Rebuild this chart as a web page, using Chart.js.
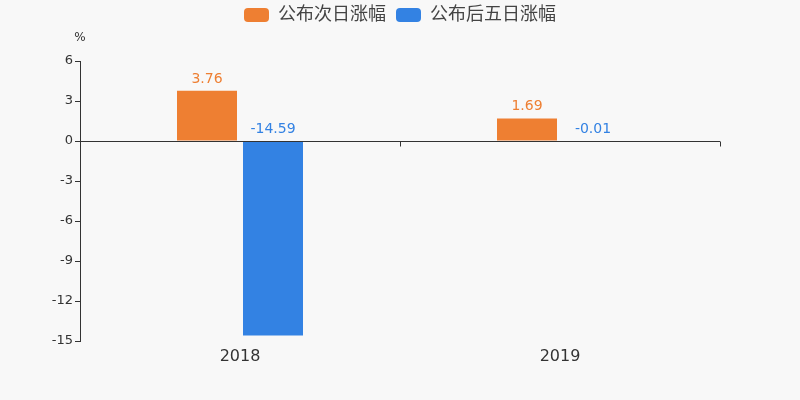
<!DOCTYPE html>
<html>
<head>
<meta charset="utf-8">
<script src="https://cdn.jsdelivr.net/npm/chart.js@4.4.1/dist/chart.umd.min.js"></script>
<style>
  html, body { margin: 0; padding: 0; background: #f8f8f8; }
  #wrap { width: 800px; height: 400px; }
</style>
</head>
<body>
<div id="wrap"><canvas id="c"></canvas></div>
<script>
const categories = ["2018", "2019"];
const nextDayChange = [3.76, 1.69];
const fiveDayChange = [-14.59, -0.01];
const seriesNames = ["公布次日涨幅", "公布后五日涨幅"];
const yTicks = [-15, -12, -9, -6, -3, 0, 3, 6];

const ORANGE = "#ee7f32";
const BLUE = "#3382e3";
const AXIS = "#333333";
const FONT = "'DejaVu Sans', 'Noto Sans CJK SC', sans-serif";

// leave room between the legend and the plot
const legendGap = {
    id: "legendGap",
    beforeInit(chart) {
        const fit = chart.legend.fit;
        chart.legend.fit = function () {
            fit.bind(chart.legend)();
            this.height += 27;
        };
    },
};

// zero-based x axis, the "%" unit and the value labels above bars
const overlay = {
    id: "overlay",
    afterDatasetsDraw(chart) {
        const { ctx, chartArea, scales } = chart;
        const y0 = Math.round(scales.y.getPixelForValue(0)) + 0.5;
        ctx.save();
        ctx.strokeStyle = AXIS;
        ctx.lineWidth = 1;
        ctx.beginPath();
        ctx.moveTo(chartArea.left, y0);
        ctx.lineTo(chartArea.right, y0);
        const step = (chartArea.right - chartArea.left) / categories.length;
        for (let i = 0; i <= categories.length; i++) {
            const x = Math.round(chartArea.left + step * i) + 0.5;
            ctx.moveTo(x, y0);
            ctx.lineTo(x, y0 + 5);
        }
        ctx.stroke();

        ctx.fillStyle = AXIS;
        ctx.font = "12px " + FONT;
        ctx.textAlign = "center";
        ctx.textBaseline = "middle";
        ctx.fillText("%", chartArea.left, 38);

        ctx.font = "14px " + FONT;
        ctx.textBaseline = "bottom";
        chart.data.datasets.forEach((ds, di) => {
            const meta = chart.getDatasetMeta(di);
            meta.data.forEach((bar, i) => {
                ctx.fillStyle = ds.backgroundColor;
                const top = Math.min(bar.y, bar.base);
                ctx.fillText(ds.data[i].toFixed(2), bar.x, top - 5);
            });
        });
        ctx.restore();
    },
};

new Chart(document.getElementById("c"), {
    type: "bar",
    data: {
        labels: categories,
        datasets: [
            { label: seriesNames[0], data: nextDayChange, backgroundColor: ORANGE },
            { label: seriesNames[1], data: fiveDayChange, backgroundColor: BLUE },
        ],
    },
    options: {
        responsive: true,
        maintainAspectRatio: false,
        animation: false,
        categoryPercentage: 0.4125,
        barPercentage: 60 / 66,
        layout: { padding: { top: -4, right: 0, left: 0, bottom: 0 } },
        plugins: {
            tooltip: { enabled: false },
            legend: {
                position: "top",
                labels: {
                    font: { family: FONT, size: 18 },
                    color: "#444",
                    boxWidth: 25,
                    boxHeight: 14,
                    useBorderRadius: true,
                    borderRadius: 4,
                    padding: 10,
                },
            },
        },
        scales: {
            x: {
                grid: { display: false, drawTicks: false },
                border: { display: false },
                ticks: { font: { family: FONT, size: 16 }, color: "#333", padding: 6 },
                afterFit(scale) { scale.height = 59; },
            },
            y: {
                min: -15,
                max: 6,
                afterBuildTicks(scale) { scale.ticks = yTicks.map((v) => ({ value: v })); },
                grid: { drawOnChartArea: false, drawTicks: true, tickLength: 5, color: AXIS },
                border: { color: AXIS },
                ticks: { font: { family: FONT, size: 13 }, color: "#333", padding: 2 },
                afterFit(scale) { scale.width = 80; },
            },
            // empty right-side gutter so the plot ends at x=720
            gutter: {
                position: "right",
                grid: { display: false, drawTicks: false },
                border: { display: false },
                ticks: { display: false },
                afterFit(scale) { scale.width = 80; },
            },
        },
    },
    plugins: [legendGap, overlay],
});
</script>
</body>
</html>
